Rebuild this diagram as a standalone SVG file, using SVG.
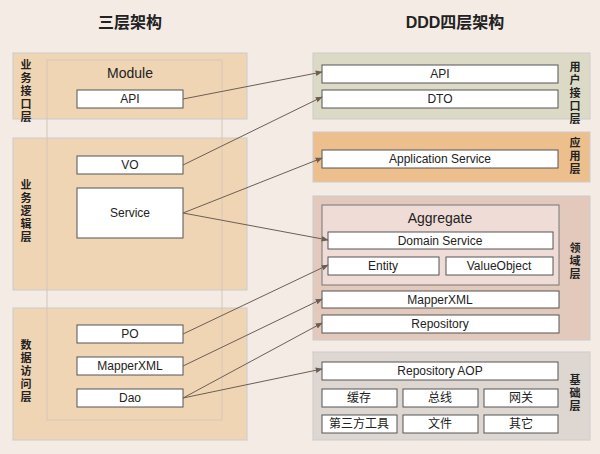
<svg xmlns="http://www.w3.org/2000/svg" width="600" height="454" viewBox="0 0 600 454">
<style>
text{font-family:"Liberation Sans","Noto Sans CJK SC",sans-serif;fill:#222}
.b{fill:#fff;stroke:#555;stroke-width:1}
.t{font-size:12px;text-anchor:middle}
.v{font-size:11px;text-anchor:middle;font-weight:bold}
.h{font-size:16px;font-weight:bold;text-anchor:middle}
.l{stroke:#6b5e55;stroke-width:1;fill:none;marker-end:url(#a)}
</style>
<defs><marker id="a" viewBox="0 0 10 10" refX="9" refY="5" markerWidth="7" markerHeight="7" orient="auto"><path d="M0,1 L10,5 L0,9z" fill="#6b5e55"/></marker></defs>
<rect width="600" height="454" fill="#f3ebe4"/>
<text x="130" y="28" class="h">三层架构</text>
<text x="455" y="28" class="h">DDD四层架构</text>
<g id="left-layers">
<rect x="13" y="53" width="234" height="66" fill="#f0d5b5" stroke="#ccc"/>
<rect x="13" y="138" width="234" height="152" fill="#f0d5b5" stroke="#ccc"/>
<rect x="13" y="308" width="234" height="132" fill="#f0d5b5" stroke="#ccc"/>
<rect x="47" y="60" width="175" height="360" fill="none" stroke="#d6c6b8"/>
<text x="26" y="60" class="v"><tspan x="26" dy="9">业</tspan><tspan x="26" dy="13">务</tspan><tspan x="26" dy="13">接</tspan><tspan x="26" dy="13">口</tspan><tspan x="26" dy="13">层</tspan></text>
<text x="26" y="180" class="v"><tspan x="26" dy="9">业</tspan><tspan x="26" dy="13">务</tspan><tspan x="26" dy="13">逻</tspan><tspan x="26" dy="13">辑</tspan><tspan x="26" dy="13">层</tspan></text>
<text x="26" y="340" class="v"><tspan x="26" dy="9">数</tspan><tspan x="26" dy="13">据</tspan><tspan x="26" dy="13">访</tspan><tspan x="26" dy="13">问</tspan><tspan x="26" dy="13">层</tspan></text>
<text x="130" y="78" class="t" style="font-size:14px">Module</text>
</g>
<g id="n-api"><rect class="b" x="77" y="90" width="106" height="18"/><text x="130" y="103" class="t">API</text></g>
<g id="n-vo"><rect class="b" x="77" y="156" width="106" height="18"/><text x="130" y="169" class="t">VO</text></g>
<g id="n-service"><rect class="b" x="77" y="188" width="106" height="50"/><text x="130" y="217" class="t">Service</text></g>
<g id="n-po"><rect class="b" x="77" y="325" width="106" height="18"/><text x="130" y="338" class="t">PO</text></g>
<g id="n-mapper"><rect class="b" x="77" y="357" width="106" height="18"/><text x="130" y="370" class="t">MapperXML</text></g>
<g id="n-dao"><rect class="b" x="77" y="389" width="106" height="18"/><text x="130" y="402" class="t">Dao</text></g>
<g id="right-layers">
<rect x="313" y="53" width="277" height="66" fill="#dcdac6" stroke="#ccc"/>
<rect x="313" y="132" width="277" height="50" fill="#ecbf8c" stroke="#ccc"/>
<rect x="313" y="196" width="277" height="144" fill="#e3c9bb" stroke="#ccc"/>
<rect x="322" y="205" width="237" height="80" fill="#efdcd6" stroke="#777"/>
<rect x="313" y="352" width="277" height="88" fill="#ddd6d1" stroke="#ccc"/>
<text x="575" y="62" class="v"><tspan x="575" dy="9">用</tspan><tspan x="575" dy="13">户</tspan><tspan x="575" dy="13">接</tspan><tspan x="575" dy="13">口</tspan><tspan x="575" dy="13">层</tspan></text>
<text x="575" y="138" class="v"><tspan x="575" dy="9">应</tspan><tspan x="575" dy="13">用</tspan><tspan x="575" dy="13">层</tspan></text>
<text x="575" y="243" class="v"><tspan x="575" dy="9">领</tspan><tspan x="575" dy="13">域</tspan><tspan x="575" dy="13">层</tspan></text>
<text x="575" y="375" class="v"><tspan x="575" dy="9">基</tspan><tspan x="575" dy="13">础</tspan><tspan x="575" dy="13">层</tspan></text>
<text x="440" y="223" class="t" style="font-size:14px">Aggregate</text>
</g>
<g id="r-api"><rect class="b" x="322" y="65" width="236" height="18"/><text x="440" y="78" class="t">API</text></g>
<g id="r-dto"><rect class="b" x="322" y="90" width="236" height="18"/><text x="440" y="103" class="t">DTO</text></g>
<g id="r-app"><rect class="b" x="322" y="150" width="236" height="18"/><text x="440" y="163" class="t">Application Service</text></g>
<g id="r-ds"><rect class="b" x="328" y="232" width="225" height="17"/><text x="440" y="245" class="t">Domain Service</text></g>
<g id="r-entity"><rect class="b" x="328" y="257" width="111" height="18"/><text x="383" y="270" class="t">Entity</text></g>
<g id="r-vo"><rect class="b" x="446" y="257" width="107" height="18"/><text x="499" y="270" class="t">ValueObject</text></g>
<g id="r-mapper"><rect class="b" x="322" y="291" width="237" height="17"/><text x="440" y="304" class="t">MapperXML</text></g>
<g id="r-repo"><rect class="b" x="322" y="315" width="237" height="18"/><text x="440" y="328" class="t">Repository</text></g>
<g id="r-aop"><rect class="b" x="322" y="362" width="236" height="18"/><text x="440" y="375" class="t">Repository AOP</text></g>
<g id="r-cache"><rect class="b" x="322" y="389" width="75" height="18"/><text x="359" y="402" class="t">缓存</text></g>
<g id="r-bus"><rect class="b" x="403" y="389" width="75" height="18"/><text x="440" y="402" class="t">总线</text></g>
<g id="r-gw"><rect class="b" x="484" y="389" width="74" height="18"/><text x="521" y="402" class="t">网关</text></g>
<g id="r-3rd"><rect class="b" x="322" y="415" width="75" height="18"/><text x="359" y="428" class="t">第三方工具</text></g>
<g id="r-file"><rect class="b" x="403" y="415" width="75" height="18"/><text x="440" y="428" class="t">文件</text></g>
<g id="r-other"><rect class="b" x="484" y="415" width="74" height="18"/><text x="521" y="428" class="t">其它</text></g>
<g id="connectors">
<path class="l" d="M183,99 L322,72"/>
<path class="l" d="M183,165 L322,97"/>
<path class="l" d="M183,213 L322,158"/>
<path class="l" d="M183,213 L328,240"/>
<path class="l" d="M183,334 L328,265"/>
<path class="l" d="M183,366 L322,299"/>
<path class="l" d="M183,398 L322,323"/>
<path class="l" d="M183,398 L322,369"/>
</g>
</svg>
